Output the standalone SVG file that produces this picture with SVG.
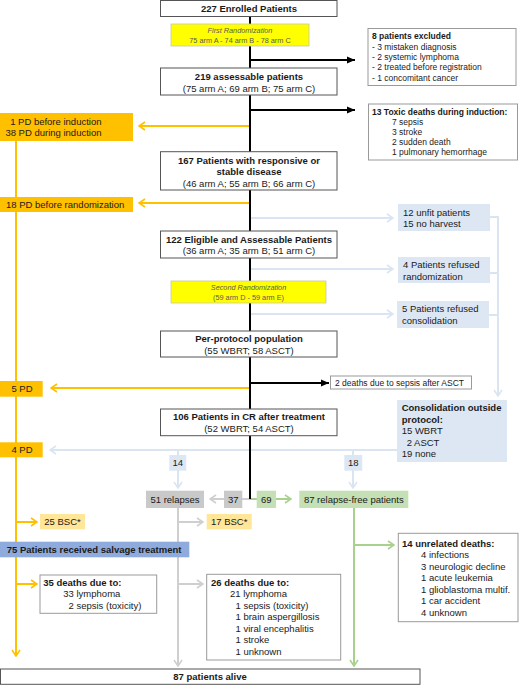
<svg xmlns="http://www.w3.org/2000/svg" width="519" height="685" viewBox="0 0 519 685">
<style>
text{font-family:"Liberation Sans",Arial,sans-serif;font-size:9.5px;fill:#1a1a1a}
.b{font-weight:bold}
.s{font-size:8.5px}
.y{font-size:7.3px;fill:#5a5a5a}
.c{text-anchor:middle}
.main{fill:#fff;stroke:#555;stroke-width:1}
.side{fill:#fff;stroke:#9a9a9a;stroke-width:1}
.yel{fill:#ffff00;stroke:#c8c8a0;stroke-width:0.8}
.org{fill:#ffc000}
.lorg{fill:#ffe699}
.lb{fill:#dde7f3}
.db{fill:#8faadc}
.gr{fill:#c9c9c9}
.gn{fill:#c5e0b4}
.k{stroke:#000;stroke-width:2;fill:none}
.o{stroke:#ffc000;stroke-width:2;fill:none}
.bl{stroke:#dae5f2;stroke-width:2;fill:none}
.g{stroke:#cfcfcf;stroke-width:2;fill:none}
.n{stroke:#a9d18e;stroke-width:2;fill:none}
</style>
<defs>
<marker id="ak" viewBox="0 0 8 8" refX="8" refY="4" markerWidth="8" markerHeight="8" markerUnits="userSpaceOnUse" orient="auto"><path d="M0,0.5 L8,4 L0,7.5 z" fill="#000"/></marker>
<marker id="ao" viewBox="0 0 8 10" refX="7" refY="5" markerWidth="8" markerHeight="10" markerUnits="userSpaceOnUse" orient="auto"><path d="M1,1 L7,5 L1,9" fill="none" stroke="#ffc000" stroke-width="1.6"/></marker>
<marker id="abl" viewBox="0 0 8 10" refX="7" refY="5" markerWidth="8" markerHeight="10" markerUnits="userSpaceOnUse" orient="auto"><path d="M1,1 L7,5 L1,9" fill="none" stroke="#dae5f2" stroke-width="1.6"/></marker>
<marker id="ag" viewBox="0 0 8 10" refX="7" refY="5" markerWidth="8" markerHeight="10" markerUnits="userSpaceOnUse" orient="auto"><path d="M1,1 L7,5 L1,9" fill="none" stroke="#cfcfcf" stroke-width="1.6"/></marker>
<marker id="an" viewBox="0 0 8 10" refX="7" refY="5" markerWidth="8" markerHeight="10" markerUnits="userSpaceOnUse" orient="auto"><path d="M1,1 L7,5 L1,9" fill="none" stroke="#a9d18e" stroke-width="1.6"/></marker>
</defs>

<g id="connectors">
<path class="bl" d="M251,218 H393" marker-end="url(#abl)"/>
<path class="bl" d="M251,269 H393" marker-end="url(#abl)"/>
<path class="bl" d="M251,314 H393" marker-end="url(#abl)"/>
<path class="bl" d="M490,217 H498 V396" marker-end="url(#abl)"/>
<path class="bl" d="M490,273 H498"/>
<path class="bl" d="M489,315 H498"/>
<path class="bl" d="M397,450 H50" marker-end="url(#abl)"/>
<path class="bl" d="M178,450 V488" marker-end="url(#abl)"/>
<path class="bl" d="M353,450 V488" marker-end="url(#abl)"/>
<path class="o" d="M249,126 H139" marker-end="url(#ao)"/>
<path class="o" d="M249,203 H139" marker-end="url(#ao)"/>
<path class="o" d="M249,388 H51" marker-end="url(#ao)"/>
<path class="o" d="M16,141 V656" marker-end="url(#ao)"/>
<path class="o" d="M16,522 H37" marker-end="url(#ao)"/>
<path class="o" d="M16,584 H37" marker-end="url(#ao)"/>
<path class="g" d="M250,499 H242"/>
<path class="g" d="M224,499 H210" marker-end="url(#ag)"/>
<path class="g" d="M178,508 V666" marker-end="url(#ag)"/>
<path class="g" d="M178,522 H203" marker-end="url(#ag)"/>
<path class="g" d="M178,584 H203" marker-end="url(#ag)"/>
<path class="n" d="M250,499 H257"/>
<path class="n" d="M276,499 H291" marker-end="url(#an)"/>
<path class="n" d="M354,508 V666" marker-end="url(#an)"/>
<path class="n" d="M354,545 H394" marker-end="url(#an)"/>
<path class="k" d="M250,16 V499"/>
<path class="k" d="M250,60 H355" marker-end="url(#ak)"/>
<path class="k" d="M250,110 H355" marker-end="url(#ak)"/>
<path class="k" d="M250,383 H329" marker-end="url(#ak)"/>
</g>

<g id="n227"><rect class="main" x="160.5" y="0.5" width="176.5" height="16"/><text class="b c" x="249" y="12">227 Enrolled Patients</text></g>
<g id="rand1"><rect class="yel" x="171" y="24" width="138" height="22"/><text class="y c" x="240" y="33" font-style="italic">First Randomization</text><text class="y c" x="240" y="42.5">75 arm A - 74 arm B - 78 arm C</text></g>
<g id="excluded"><rect class="side" x="368" y="28.5" width="148" height="57"/><text class="s b" x="372" y="39.3">8 patients excluded</text><text class="s" x="372" y="49.6">- 3 mistaken diagnosis</text><text class="s" x="372" y="59.9">- 2 systemic lymphoma</text><text class="s" x="372" y="70.2">- 2 treated before registration</text><text class="s" x="372" y="80.5">- 1 concomitant cancer</text></g>
<g id="n219"><rect class="main" x="160.5" y="68" width="176.5" height="27"/><text class="b c" x="249" y="80">219 assessable patients</text><text class="c" x="249" y="91.5">(75 arm A; 69 arm B; 75 arm C)</text></g>
<g id="toxic"><rect class="side" x="368.5" y="104" width="149" height="56"/><text class="b s" x="372" y="114.5">13 Toxic deaths during induction:</text><text class="s" x="392" y="124.5">7 sepsis</text><text class="s" x="392" y="134.5">3 stroke</text><text class="s" x="392" y="144.5">2 sudden death</text><text class="s" x="392" y="154.5">1 pulmonary hemorrhage</text></g>
<g id="pd39"><rect class="org" x="0" y="113" width="133" height="28"/><text x="101.5" y="124.5" text-anchor="end">1 PD before induction</text><text x="101.5" y="136" text-anchor="end">38 PD during induction</text></g>
<g id="n167"><rect class="main" x="160.5" y="151.7" width="176.5" height="38.3"/><text class="b c" x="249" y="163.5">167 Patients with responsive or</text><text class="b c" x="249" y="175">stable disease</text><text class="c" x="249" y="186.5">(46 arm A; 55 arm B; 66 arm C)</text></g>
<g id="pd18"><rect class="org" x="0" y="197" width="133" height="15"/><text x="6" y="207.5">18 PD before randomization</text></g>
<g id="unfit"><rect class="lb" x="398" y="204" width="92" height="27"/><text x="403" y="215.5">12 unfit patients</text><text x="403" y="227">15 no harvest</text></g>
<g id="n122"><rect class="main" x="160.5" y="231" width="176.5" height="27"/><text class="b c" x="249" y="242.5">122 Eligible and Assessable Patients</text><text class="c" x="249" y="254">(36 arm A; 35 arm B; 51 arm C)</text></g>
<g id="refrand"><rect class="lb" x="398" y="257" width="92" height="26"/><text x="403" y="268">4 Patients refused</text><text x="403" y="279.5">randomization</text></g>
<g id="rand2"><rect class="yel" x="171" y="281" width="155" height="22"/><text class="y c" x="248.5" y="289.5" font-style="italic">Second Randomization</text><text class="y c" x="248.5" y="299.5">(59 arm D - 59 arm E)</text></g>
<g id="refcons"><rect class="lb" x="397" y="301" width="92" height="27"/><text x="402" y="312">5 Patients refused</text><text x="402" y="323.5">consolidation</text></g>
<g id="perprotocol"><rect class="main" x="160.5" y="331" width="176.5" height="26"/><text class="b c" x="249" y="342">Per-protocol population</text><text class="c" x="249" y="353.5">(55 WBRT; 58 ASCT)</text></g>
<g id="sepsis2"><rect class="side" x="330.5" y="376" width="141" height="13"/><text class="s" x="335" y="385.5">2 deaths due to sepsis after ASCT</text></g>
<g id="pd5"><rect class="org" x="0" y="381" width="42.7" height="15.7"/><text class="c" x="22" y="392">5 PD</text></g>
<g id="outside"><rect class="lb" x="397" y="400" width="110" height="62"/><text class="b" x="401.7" y="411">Consolidation outside</text><text class="b" x="401.7" y="422.5">protocol:</text><text x="401.7" y="434">15 WBRT</text><text x="406.7" y="445.5">2 ASCT</text><text x="401.7" y="457">19 none</text></g>
<g id="n106"><rect class="main" x="160.5" y="409" width="176.5" height="26.7"/><text class="b c" x="249" y="420">106 Patients in CR after treatment</text><text class="c" x="249" y="431.5">(52 WBRT; 54 ASCT)</text></g>
<g id="pd4"><rect class="org" x="0" y="442.3" width="42.7" height="15"/><text class="c" x="22" y="453">4 PD</text></g>
<g id="l14"><rect class="lb" x="169.3" y="455" width="17" height="15.7"/><text class="c" x="177.8" y="466">14</text></g>
<g id="l18"><rect class="lb" x="344.3" y="455" width="18" height="15.7"/><text class="c" x="353.3" y="466">18</text></g>
<g id="relapses"><rect class="gr" x="146" y="490.7" width="58" height="17.3"/><text class="c" x="175" y="503">51 relapses</text></g>
<g id="l37"><rect class="gr" x="224" y="490.7" width="18.3" height="17.3"/><text class="c" x="233.2" y="503">37</text></g>
<g id="l69"><rect class="gn" x="256.7" y="490.7" width="19.3" height="17.3"/><text class="c" x="266.3" y="503">69</text></g>
<g id="relapsefree"><rect class="gn" x="299.3" y="490.7" width="109" height="17.3"/><text class="c" x="353.8" y="503">87 relapse-free patients</text></g>
<g id="bsc25"><rect class="lorg" x="40" y="514" width="45" height="15.3"/><text class="c" x="62.5" y="525">25 BSC*</text></g>
<g id="bsc17"><rect class="lorg" x="206.7" y="514" width="45" height="15.3"/><text class="c" x="229.2" y="525">17 BSC*</text></g>
<g id="salvage"><rect class="db" x="0" y="541.7" width="189.3" height="15.6"/><text class="b" x="6.7" y="553">75 Patients received salvage treatment</text></g>
<g id="unrelated"><rect class="side" x="398.3" y="533.3" width="119.7" height="88.4"/><text class="b" x="402" y="546.5">14 unrelated deaths:</text><text x="421" y="558">4 infections</text><text x="421" y="569.5">3 neurologic decline</text><text x="421" y="581">1 acute leukemia</text><text x="421" y="592.5">1 glioblastoma multif.</text><text x="421" y="604">1 car accident</text><text x="421" y="615.5">4 unknown</text></g>
<g id="deaths35"><rect class="side" x="40" y="575" width="116.7" height="38.3"/><text class="b" x="43.3" y="585.5">35 deaths due to:</text><text x="63.3" y="597">33 lymphoma</text><text x="68.5" y="608.5">2 sepsis (toxicity)</text></g>
<g id="deaths26"><rect class="side" x="206.7" y="574.3" width="134" height="85.7"/><text class="b" x="211" y="585.5">26 deaths due to:</text><text x="230" y="597">21 lymphoma</text><text x="235.5" y="608.5">1 sepsis (toxicity)</text><text x="235.5" y="620">1 brain aspergillosis</text><text x="235.5" y="631.5">1 viral encephalitis</text><text x="235.5" y="643">1 stroke</text><text x="235.5" y="654.5">1 unknown</text></g>
<g id="alive"><rect class="main" x="0.5" y="669" width="419.5" height="15.3"/><text class="b c" x="210" y="680">87 patients alive</text></g>
</svg>
